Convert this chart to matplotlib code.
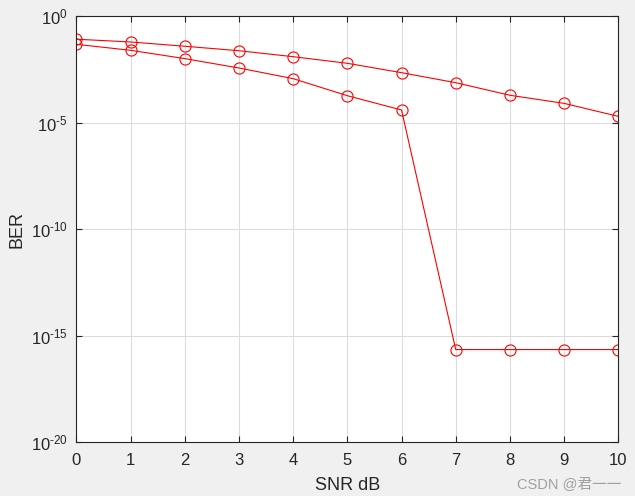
import numpy as np
import matplotlib
matplotlib.use("Agg")
from matplotlib import pyplot as plt
from matplotlib.ticker import FixedLocator, FixedFormatter

# SNR axis and the two BER curves (log10 values)
snr = [0, 1, 2, 3, 4, 5, 6, 7, 8, 9, 10]
ber_upper_log = [-1.09, -1.22, -1.42, -1.63, -1.91, -2.22, -2.66, -3.13, -3.72, -4.10, -4.71]
ber_lower_log = [-1.33, -1.61, -2.00, -2.44, -2.94, -3.74, -4.41, -15.65, -15.65, -15.65, -15.65]

ber_upper = 10.0 ** np.array(ber_upper_log)
ber_lower = 10.0 ** np.array(ber_lower_log)

ytick_exp = [0, -5, -10, -15, -20]

plt.rcParams['font.family'] = ['Liberation Sans', 'Noto Sans CJK SC', 'DejaVu Sans']
plt.rcParams['mathtext.fontset'] = 'custom'
plt.rcParams['mathtext.rm'] = 'Liberation Sans'
plt.rcParams['mathtext.it'] = 'Liberation Sans'

fig = plt.figure(figsize=(6.35, 4.96), dpi=100, facecolor='#f0f0f0')
ax = fig.add_axes([0.1202, 0.1083, 0.8535, 0.8595])
ax.set_facecolor('white')

# plot both curves
ax.semilogy(snr, ber_upper, '-o', color='#ff0000', linewidth=0.8,
            markersize=8, markerfacecolor='none', markeredgewidth=0.8)
ax.semilogy(snr, ber_lower, '-o', color='#ff0000', linewidth=0.8,
            markersize=8, markerfacecolor='none', markeredgewidth=0.8)

ax.set_xlim(0, 10)
ax.set_ylim(1e-20, 1e0)
ax.set_xticks(snr)

# MATLAB style labels with a plain hyphen in the exponent
ylabels = []
for e in ytick_exp:
    if e < 0:
        ylabels.append(r'$10^{\text{-}%d}$' % (-e))
    else:
        ylabels.append(r'$10^{%d}$' % e)
ax.yaxis.set_major_locator(FixedLocator([10.0 ** e for e in ytick_exp]))
ax.yaxis.set_major_formatter(FixedFormatter(ylabels))
ax.yaxis.set_minor_locator(FixedLocator([]))

ax.grid(True, color='#dcdcdc', linewidth=0.8)
ax.set_axisbelow(True)
ax.tick_params(direction='in', top=True, right=True, length=4, width=0.8,
               labelsize=12, colors='#262626')
ax.tick_params(axis='x', pad=8)
ax.tick_params(axis='y', pad=6)
for s in ax.spines.values():
    s.set_color('#262626')
    s.set_linewidth(0.8)

ax.set_xlabel('SNR dB', fontsize=13, color='#262626', va='center')
ax.set_ylabel('BER', fontsize=13, color='#262626', va='center')
ax.xaxis.set_label_coords(0.5, -0.102)
ax.yaxis.set_label_coords(-0.110, 0.5)

# watermark
fig.text(0.978, 0.010, 'CSDN @君一一', ha='right', va='bottom', fontsize=10.5,
         color='#a0a0a0', family=['Liberation Sans', 'Noto Sans CJK SC', 'DejaVu Sans'])

fig.savefig('out.png', dpi=100, facecolor=fig.get_facecolor())
